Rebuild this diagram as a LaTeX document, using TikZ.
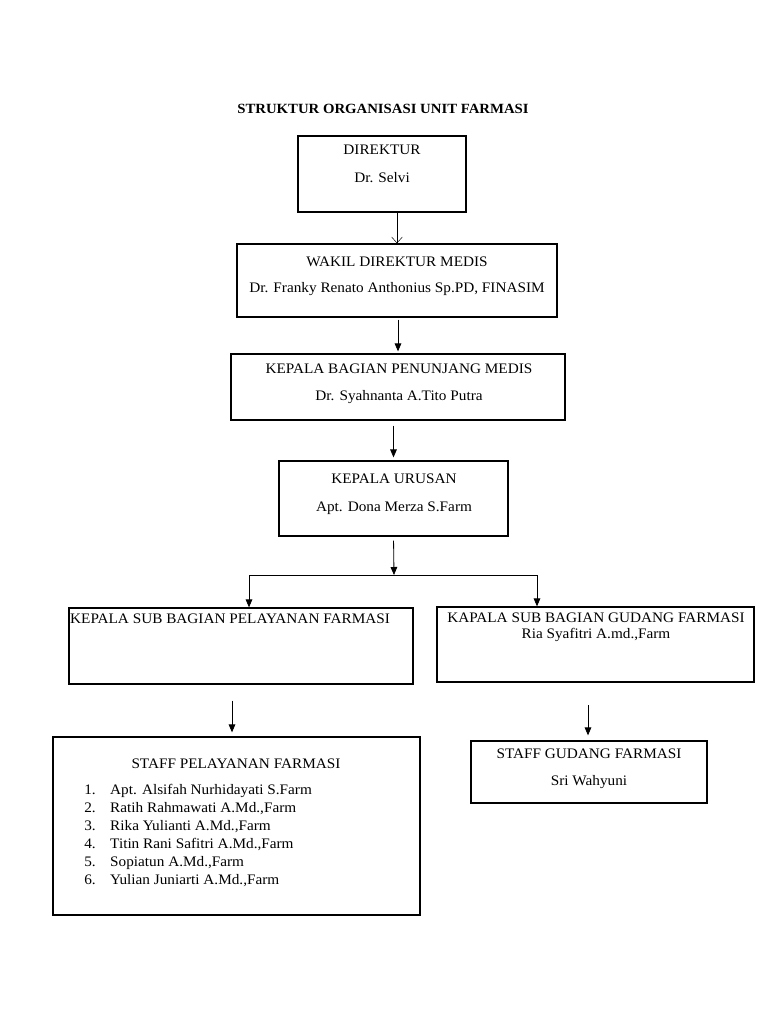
\documentclass[tikz,border=0pt]{standalone}
\usepackage{fontspec}
\setmainfont{Liberation Serif}[FakeStretch=1.05]
\usetikzlibrary{arrows.meta, fit, positioning}

\begin{document}
\begin{tikzpicture}[x=0.3mm, y=-0.3mm,
			box/.style={draw, line width=1.1pt, inner sep=0pt},
			txt/.style={font=\fontsize{12.4}{14}\selectfont, inner sep=0pt},
			arr/.style={-{Triangle[length=2.4mm, width=2mm]}, line width=0.7pt},
			barb/.style={-{Straight Barb[length=1.8mm, width=3.2mm]}, line width=0.4pt}
			]
			\useasboundingbox (0,0) rectangle (768,1024);
			\node[font=\fontsize{12}{15}\selectfont\bfseries, inner sep=0pt] (title) at (383,109) {STRUKTUR ORGANISASI UNIT FARMASI};
			
			% boxes
			\node[box, fit={(298,136) (466,212)}] (direktur) {};
			\node[box, fit={(237,244) (557,317)}] (wakil) {};
			\node[box, fit={(231,354) (565,420)}] (kabag) {};
			\node[box, fit={(279,461) (508,536)}] (urusan) {};
			\node[box, fit={(69,608) (413,684)}] (pelayanan) {};
			\node[box, fit={(437,607) (754,682)}] (gudang) {};
			\node[box, fit={(53,737) (420,915)}] (staffpel) {};
			\node[box, fit={(471,741) (707,803)}] (staffgud) {};
			
			% texts
			\node[txt] (direktur-a) at (382,150) {DIREKTUR};
			\node[txt] (direktur-b) at (382,178) {Dr. Selvi};
			\node[txt] (wakil-a) at (397,262) {WAKIL DIREKTUR MEDIS};
			\node[txt] (wakil-b) at (397,289) {Dr. Franky Renato Anthonius Sp.PD, FINASIM};
			\node[txt] (kabag-a) at (399,369) {KEPALA BAGIAN PENUNJANG MEDIS};
			\node[txt] (kabag-b) at (399,397) {Dr. Syahnanta A.Tito Putra};
			\node[txt] (urusan-a) at (394,479) {KEPALA URUSAN};
			\node[txt] (urusan-b) at (394,508) {Apt. Dona Merza S.Farm};
			\node[txt, anchor=west] (pelayanan-a) at (70,619) {KEPALA SUB BAGIAN PELAYANAN FARMASI};
			\node[txt] (gudang-a) at (596,618) {KAPALA SUB BAGIAN GUDANG FARMASI};
			\node[txt] (gudang-b) at (596,635) {Ria Syafitri A.md.,Farm};
			\node[txt] (staffpel-a) at (236,764) {STAFF PELAYANAN FARMASI};
			\foreach \nama [count=\i] in {{Apt. Alsifah Nurhidayati S.Farm}, {Ratih Rahmawati A.Md.,Farm},
				{Rika Yulianti A.Md.,Farm}, {Titin Rani Safitri A.Md.,Farm}, {Sopiatun A.Md.,Farm},
				{Yulian Juniarti A.Md.,Farm}}
				{
				\node[txt, anchor=base east] (no\i) at (96,777+\i*17.9) {\i.};
				\node[txt, anchor=base west] (staff\i) at (110,777+\i*17.9) {\nama};
				}
			\node[txt] (staffgud-a) at (589,754) {STAFF GUDANG FARMASI};
			\node[txt] (staffgud-b) at (589,782) {Sri Wahyuni};
			
			% connectors
			\coordinate (split) at (394,575);
			\coordinate (splitL) at (249,575);
			\coordinate (splitR) at (537,575);
			\draw[barb] (wakil.north |- direktur.south) -- (wakil.north);
			\draw[arr, shorten <=0.6mm, shorten >=0.6mm] (kabag.north |- wakil.south) -- (kabag.north);
			\draw[arr, shorten <=1.5mm, shorten >=0.9mm] (urusan.north |- kabag.south) -- (urusan.north);
			\draw[arr, shorten <=1.2mm] (urusan.south |- urusan.south) -- (split);
			\draw[line width=0.5pt] (splitL) -- (splitR);
			\draw[arr] (splitL) -- (splitL |- pelayanan.north);
			\draw[arr] (splitR) -- (splitR |- gudang.north);
			\draw[arr, shorten <=5mm, shorten >=1.2mm] (232,684) coordinate (pelayanan-out) -- (pelayanan-out |- staffpel.north);
			\draw[arr, shorten <=6.9mm, shorten >=1.5mm] (588,682) coordinate (gudang-out) -- (gudang-out |- staffgud.north);
	\end{tikzpicture}
\end{document}
